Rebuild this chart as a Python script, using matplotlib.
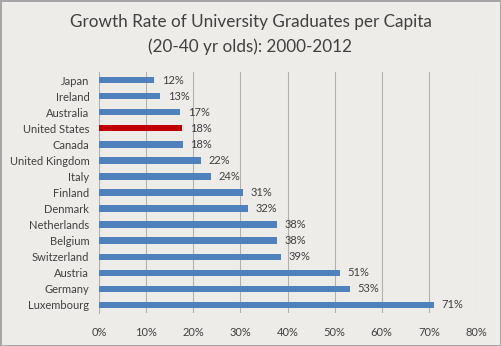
import matplotlib.pyplot as plt
from matplotlib.ticker import FuncFormatter

# Growth rate of university graduates per capita, 2000-2012 (%)
countries = ['Japan', 'Ireland', 'Australia', 'United States', 'Canada',
             'United Kingdom', 'Italy', 'Finland', 'Denmark', 'Netherlands',
             'Belgium', 'Switzerland', 'Austria', 'Germany', 'Luxembourg']
growth = [11.7, 13.0, 17.2, 17.7, 17.8, 21.7, 23.8, 30.6, 31.6, 37.8,
          37.8, 38.6, 51.2, 53.3, 71.1]
highlight = 'United States'
xticks = [0, 10, 20, 30, 40, 50, 60, 70, 80]

plt.rcParams['font.family'] = ['Lato', 'DejaVu Sans']
bg = '#EEECE9'
text_c = '#404040'

fig = plt.figure(figsize=(5.01, 3.46), dpi=100, facecolor=bg,
                 edgecolor='#A6A6A6', linewidth=2)
ax = fig.add_axes([99 / 501, 1 - 313 / 346, 377 / 501, 241 / 346])
ax.set_facecolor(bg)

colors = ['#C00000' if c == highlight else '#4F81BD' for c in countries]
ypos = range(len(countries))
ax.barh(ypos, growth, height=0.4, color=colors, zorder=3)

for y, v in zip(ypos, growth):
    ax.text(v + 1.6, y, f'{v:.0f}%', va='center', ha='left',
            fontsize=8, color=text_c)

ax.set_yticks(list(ypos))
ax.set_yticklabels(countries)
ax.set_ylim(len(countries) - 0.5, -0.5)
ax.set_xlim(0, 80)
ax.set_xticks(xticks)
ax.xaxis.set_major_formatter(FuncFormatter(lambda v, p: f'{v:.0f}%'))
ax.tick_params(axis='both', length=0, labelsize=8, colors=text_c)
ax.tick_params(axis='x', pad=10)
ax.tick_params(axis='y', pad=7)

ax.grid(axis='x', color='#B0B0B0', linewidth=0.75, zorder=0)
for s in ['top', 'right', 'bottom']:
    ax.spines[s].set_visible(False)
ax.spines['left'].set_color('#B0B0B0')
ax.spines['left'].set_linewidth(0.75)

fig.text(0.5, 1 - 22 / 346, 'Growth Rate of University Graduates per Capita',
         ha='center', va='center', fontsize=12.3, color=text_c)
fig.text(0.5, 1 - 47 / 346, '(20-40 yr olds): 2000-2012',
         ha='center', va='center', fontsize=12.3, color=text_c)

fig.savefig('out.png', dpi=100, facecolor=bg, edgecolor='#A6A6A6')
